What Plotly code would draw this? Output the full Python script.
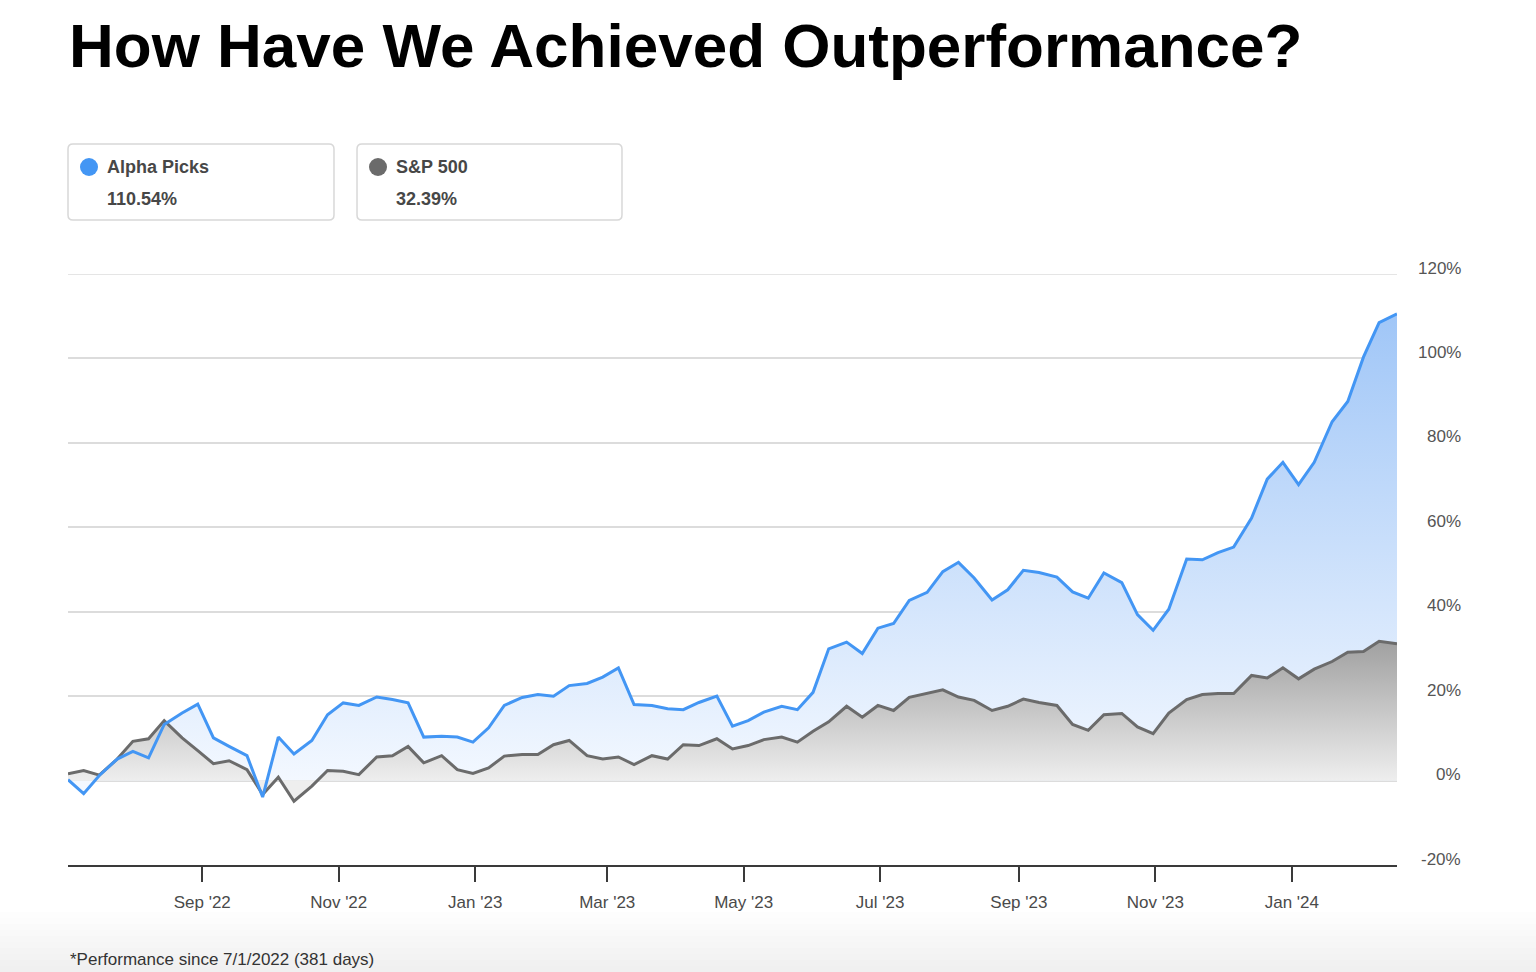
import plotly.graph_objects as go

# ---------------- data ----------------
dates = [
    "2022-07-03", "2022-07-10", "2022-07-17", "2022-07-25", "2022-08-01", "2022-08-08",
    "2022-08-15", "2022-08-23", "2022-08-30", "2022-09-06", "2022-09-13", "2022-09-21",
    "2022-09-28", "2022-10-05", "2022-10-12", "2022-10-20", "2022-10-27", "2022-11-03",
    "2022-11-10", "2022-11-18", "2022-11-25", "2022-12-02", "2022-12-09", "2022-12-17",
    "2022-12-24", "2022-12-31", "2023-01-07", "2023-01-14", "2023-01-22", "2023-01-29",
    "2023-02-05", "2023-02-12", "2023-02-20", "2023-02-27", "2023-03-06", "2023-03-13",
    "2023-03-21", "2023-03-28", "2023-04-04", "2023-04-11", "2023-04-19", "2023-04-26",
    "2023-05-03", "2023-05-10", "2023-05-18", "2023-05-25", "2023-06-01", "2023-06-08",
    "2023-06-16", "2023-06-23", "2023-06-30", "2023-07-07", "2023-07-14", "2023-07-22",
    "2023-07-29", "2023-08-05", "2023-08-12", "2023-08-20", "2023-08-27", "2023-09-03",
    "2023-09-10", "2023-09-18", "2023-09-25", "2023-10-02", "2023-10-09", "2023-10-17",
    "2023-10-24", "2023-10-31", "2023-11-07", "2023-11-15", "2023-11-22", "2023-11-29",
    "2023-12-06", "2023-12-14", "2023-12-21", "2023-12-28", "2024-01-04", "2024-01-11",
    "2024-01-19", "2024-01-26", "2024-02-02", "2024-02-09", "2024-02-17",
]

alpha_picks = [
    0.2, -3.1, 1.2, 5.1, 6.9, 5.4, 13.3, 16.0, 18.1, 10.1, 8.1, 5.9,
    -3.9, 10.3, 6.3, 9.5, 15.6, 18.4, 17.8, 19.8, 19.2, 18.4, 10.3, 10.5,
    10.3, 9.1, 12.5, 17.8, 19.7, 20.4, 20.0, 22.5, 23.0, 24.5, 26.7, 18.0,
    17.8, 17.0, 16.8, 18.5, 20.0, 12.9, 14.2, 16.2, 17.6, 16.8, 20.9, 31.2,
    32.8, 30.1, 36.1, 37.2, 42.7, 44.6, 49.5, 51.7, 48.0, 42.8, 45.2, 49.8,
    49.3, 48.2, 44.7, 43.2, 49.2, 46.9, 39.3, 35.6, 40.6, 52.5, 52.3, 54.0,
    55.3, 62.2, 71.4, 75.4, 70.1, 75.4, 85.0, 89.8, 100.3, 108.5, 110.54,
]

sp500 = [
    1.6, 2.4, 1.3, 5.1, 9.3, 9.9, 14.2, 10.1, 7.1, 4.0, 4.7, 2.6,
    -3.3, 0.8, -4.9, -1.3, 2.4, 2.2, 1.4, 5.6, 5.9, 8.1, 4.2, 5.9,
    2.6, 1.7, 3.0, 5.8, 6.2, 6.2, 8.5, 9.5, 5.9, 5.1, 5.6, 3.8,
    5.9, 5.1, 8.5, 8.3, 9.9, 7.5, 8.3, 9.7, 10.3, 9.1, 11.7, 13.9,
    17.6, 15.0, 17.8, 16.6, 19.7, 20.6, 21.5, 19.8, 19.0, 16.6, 17.6, 19.3,
    18.5, 17.8, 13.3, 11.9, 15.6, 15.9, 12.7, 11.1, 16.0, 19.2, 20.4, 20.6,
    20.6, 24.9, 24.3, 26.7, 24.1, 26.4, 28.2, 30.4, 30.6, 33.0, 32.39,
]

series_names = ["Alpha Picks", "S&P 500"]
final_returns = ["110.54%", "32.39%"]
y_ticks = [-20, 0, 20, 40, 60, 80, 100, 120]
y_tick_labels = ["-20%", "0%", "20%", "40%", "60%", "80%", "100%", "120%"]

title_text = "How Have We Achieved Outperformance?"
footnote_text = "*Performance since 7/1/2022 (381 days)"

# ---------------- styling ----------------
W, H = 1536, 972
L, R, T, B = 68, 1397, 274, 865
BLUE = "#4396f4"
GRAY = "#6b6b6b"
GRID = "#dcdcdc"
FONT = "Liberation Sans, Arial, sans-serif"


def xp(px):
    return (px - L) / (R - L)


def yp(py):
    return (B - py) / (B - T)


def rrect_path(x0, y0, x1, y1, r):
    pts = [
        ("M", [(x0 + r, y0)]),
        ("L", [(x1 - r, y0)]),
        ("Q", [(x1, y0), (x1, y0 + r)]),
        ("L", [(x1, y1 - r)]),
        ("Q", [(x1, y1), (x1 - r, y1)]),
        ("L", [(x0 + r, y1)]),
        ("Q", [(x0, y1), (x0, y1 - r)]),
        ("L", [(x0, y0 + r)]),
        ("Q", [(x0, y0), (x0 + r, y0)]),
    ]
    s = ""
    for cmd, ps in pts:
        s += cmd + " " + " ".join(f"{xp(a):.5f},{yp(b):.5f}" for a, b in ps) + " "
    return s + "Z"


fig = go.Figure()

# filled areas
fig.add_trace(go.Scatter(
    x=dates, y=alpha_picks, mode="lines", line=dict(width=0, color=BLUE),
    fill="tozeroy",
    fillgradient=dict(type="vertical",
                      colorscale=[[0, "rgb(243,248,255)"], [1, "rgb(160,198,247)"]],
                      start=0, stop=max(alpha_picks)),
    hoverinfo="skip", showlegend=False,
))
fig.add_trace(go.Scatter(
    x=dates, y=sp500, mode="lines", line=dict(width=0, color=GRAY),
    fill="tozeroy",
    fillgradient=dict(type="vertical",
                      colorscale=[[0, "rgb(238,238,238)"], [1, "rgb(160,160,160)"]],
                      start=0, stop=max(sp500)),
    hoverinfo="skip", showlegend=False,
))
# lines
fig.add_trace(go.Scatter(x=dates, y=sp500, mode="lines", name=series_names[1],
                         line=dict(width=3, color=GRAY), showlegend=False))
fig.add_trace(go.Scatter(x=dates, y=alpha_picks, mode="lines", name=series_names[0],
                         line=dict(width=3, color=BLUE), showlegend=False))

shapes = []
annotations = []

# top gridline (at the edge of the range)
shapes.append(dict(type="line", xref="paper", yref="y", x0=0, x1=1,
                   y0=y_ticks[-1], y1=y_ticks[-1], layer="below",
                   line=dict(color=GRID, width=1.5)))

# legend cards
cards = [(68, 334, BLUE), (357, 622, GRAY)]
for i, (cx0, cx1, col) in enumerate(cards):
    shapes.append(dict(type="path", xref="paper", yref="paper",
                       path=rrect_path(cx0, 144, cx1, 220, 5),
                       line=dict(color="#d8d8d8", width=1.5), fillcolor="white"))
    shapes.append(dict(type="circle", xref="paper", yref="paper",
                       x0=xp(cx0 + 12), x1=xp(cx0 + 30), y0=yp(176), y1=yp(158),
                       line=dict(width=0), fillcolor=col))
    annotations.append(dict(xref="paper", yref="paper", x=xp(cx0 + 37), y=yp(167),
                            xanchor="left", yanchor="middle", showarrow=False,
                            text=f"<b>{series_names[i]}</b>",
                            font=dict(family=FONT, size=18, color="#474747")))
    annotations.append(dict(xref="paper", yref="paper", x=xp(cx0 + 37), y=yp(199),
                            xanchor="left", yanchor="middle", showarrow=False,
                            text=f"<b>{final_returns[i]}</b>",
                            font=dict(family=FONT, size=18, color="#474747")))

# y tick labels (right aligned)
for v, lab in zip(y_ticks, y_tick_labels):
    annotations.append(dict(xref="paper", yref="y", x=xp(1463), y=v, yshift=6,
                            xanchor="right", yanchor="middle", showarrow=False,
                            text=lab, font=dict(family=FONT, size=17, color="#555555")))

# title
annotations.append(dict(xref="paper", yref="paper", x=xp(67), y=yp(46),
                        xanchor="left", yanchor="middle", showarrow=False,
                        text=f"<b>{title_text}</b>",
                        font=dict(family=FONT, size=62, color="#000000")))

# bottom band
n = 10
for k in range(n):
    py0 = 912 + k * 6
    py1 = py0 + 6 if k < n - 1 else 975
    g = int(255 - (255 - 240) * (k + 1) / n)
    shapes.append(dict(type="rect", xref="paper", yref="paper", layer="below",
                       x0=-0.2, x1=1.2, y0=yp(py1), y1=yp(py0),
                       line=dict(width=0), fillcolor=f"rgb({g},{g},{g})"))

annotations.append(dict(xref="paper", yref="paper", x=xp(68), y=yp(959),
                        xanchor="left", yanchor="middle", showarrow=False,
                        text=footnote_text,
                        font=dict(family=FONT, size=17, color="#333333")))

fig.update_layout(
    width=W, height=H,
    margin=dict(l=L, r=W - R, t=T, b=H - B),
    paper_bgcolor="white", plot_bgcolor="white",
    shapes=shapes, annotations=annotations,
    showlegend=False,
    xaxis=dict(
        type="date", range=[dates[0], dates[-1]],
        tick0="2022-09-01", dtick="M2", tickformat="%b '%y",
        showgrid=False, zeroline=False,
        showline=True, linecolor="#3a3a3a", linewidth=2,
        ticks="outside", ticklen=15, tickwidth=2, tickcolor="#3a3a3a",
        ticklabelstandoff=6,
        tickfont=dict(family=FONT, size=17, color="#4a4a4a"),
    ),
    yaxis=dict(
        range=[-20, 120], tickvals=y_ticks, showticklabels=False,
        showgrid=True, gridcolor=GRID, gridwidth=1.5,
        zeroline=False, showline=False, ticks="",
    ),
    hovermode=False,
)

fig.write_html(
    "out.html",
    config={"displayModeBar": False},
    post_script="document.body.style.margin='0';document.body.style.overflow='hidden';",
)
